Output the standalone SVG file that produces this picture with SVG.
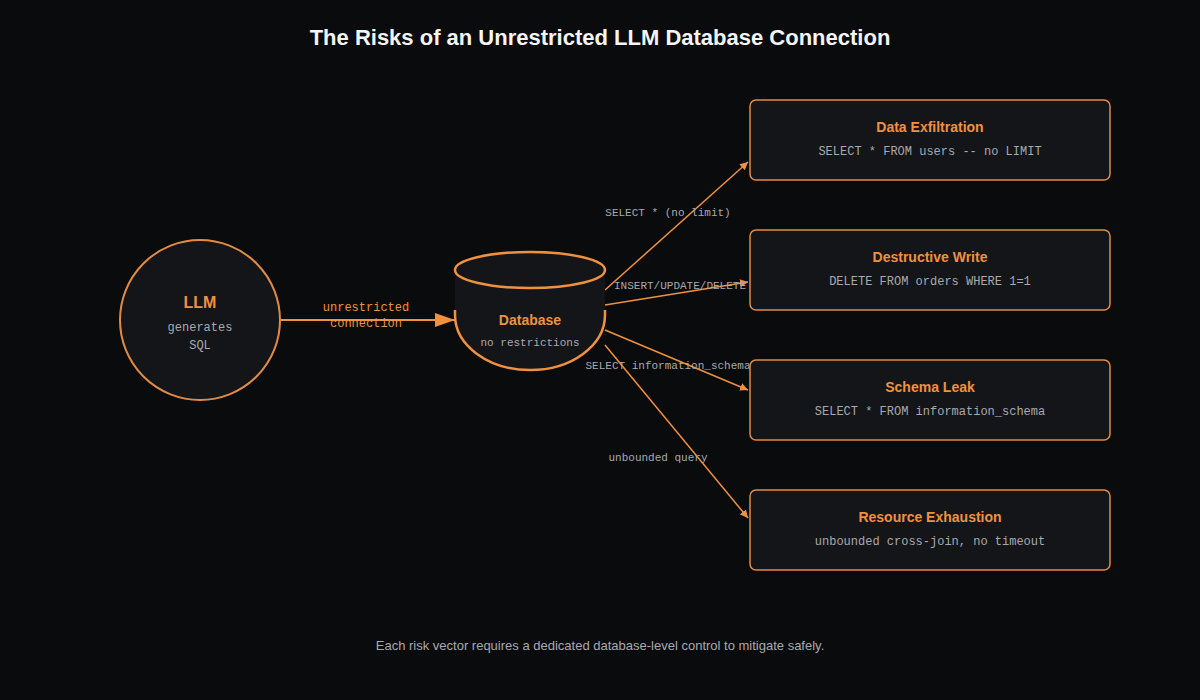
<svg xmlns="http://www.w3.org/2000/svg" width="1200" height="700" viewBox="0 0 1200 700">
<style>
.t{font-family:"Liberation Sans",Arial,sans-serif;font-weight:bold;fill:#f0913f;text-anchor:middle}
.m{font-family:"Liberation Mono","DejaVu Sans Mono",monospace;fill:#a9a9ad;text-anchor:middle}
.box{fill:#141519;stroke:#e38b44;stroke-width:1.5}
.e{stroke:#f0913f;stroke-width:1.5;fill:none;marker-end:url(#a)}
</style>
<defs><marker id="a" viewBox="0 0 10 10" refX="10" refY="5" markerWidth="8" markerHeight="8" orient="auto" markerUnits="userSpaceOnUse"><path d="M0,0L10,5L0,10z" fill="#f0913f"/></marker>
<marker id="b" viewBox="0 0 10 10" refX="10" refY="5" markerWidth="20" markerHeight="14" orient="auto" markerUnits="userSpaceOnUse" preserveAspectRatio="none"><path d="M0,0L10,5L0,10z" fill="#f0913f"/></marker></defs>
<rect width="1200" height="700" fill="#0a0b0d"/>
<text x="600" y="45" font-family="Liberation Sans,Arial,sans-serif" font-weight="bold" font-size="22" fill="#f5f5f5" text-anchor="middle">The Risks of an Unrestricted LLM Database Connection</text>
<g id="connectors">
<line x1="280" y1="320" x2="455" y2="320" stroke="#f0913f" stroke-width="2" marker-end="url(#b)"/>
<text x="366" y="311" class="m" font-size="12" style="fill:#f0913f">unrestricted</text>
<text x="366" y="327" class="m" font-size="12" style="fill:#f0913f">connection</text>
<line class="e" x1="605" y1="290" x2="748" y2="162"/>
<line class="e" x1="605" y1="305" x2="748" y2="282"/>
<line class="e" x1="605" y1="330" x2="748" y2="390"/>
<line class="e" x1="605" y1="345" x2="748" y2="518"/>
<text x="668" y="216" class="m" font-size="11">SELECT * (no limit)</text>
<text x="680" y="289" class="m" font-size="11">INSERT/UPDATE/DELETE</text>
<text x="668" y="369" class="m" font-size="11">SELECT information_schema</text>
<text x="658" y="461" class="m" font-size="11">unbounded query</text>
</g>
<g id="llm"><circle cx="200" cy="320" r="80" class="box" style="stroke-width:2"/>
<text x="200" y="308" class="t" font-size="16">LLM</text>
<text x="200" y="331" class="m" font-size="12">generates</text>
<text x="200" y="349" class="m" font-size="12">SQL</text></g>
<g id="database">
<path d="M455,270V315A75,55 0 0 0 605,315V270z" fill="#141519"/>
<path d="M455,310V315A75,55 0 0 0 605,315V310" fill="none" stroke="#f0913f" stroke-width="2.5"/>
<ellipse cx="530" cy="270" rx="75" ry="18" fill="#141519" stroke="#f0913f" stroke-width="2.5"/>
<text x="530" y="325" class="t" font-size="14">Database</text>
<text x="530" y="346" class="m" font-size="11">no restrictions</text></g>
<g id="exfil"><rect x="750" y="100" width="360" height="80" rx="6" class="box"/>
<text x="930" y="132" class="t" font-size="14">Data Exfiltration</text>
<text x="930" y="155" class="m" font-size="12">SELECT * FROM users -- no LIMIT</text></g>
<g id="write"><rect x="750" y="230" width="360" height="80" rx="6" class="box"/>
<text x="930" y="262" class="t" font-size="14">Destructive Write</text>
<text x="930" y="285" class="m" font-size="12">DELETE FROM orders WHERE 1=1</text></g>
<g id="schema"><rect x="750" y="360" width="360" height="80" rx="6" class="box"/>
<text x="930" y="392" class="t" font-size="14">Schema Leak</text>
<text x="930" y="415" class="m" font-size="12">SELECT * FROM information_schema</text></g>
<g id="resource"><rect x="750" y="490" width="360" height="80" rx="6" class="box"/>
<text x="930" y="522" class="t" font-size="14">Resource Exhaustion</text>
<text x="930" y="545" class="m" font-size="12">unbounded cross-join, no timeout</text></g>
<text x="600" y="650" font-family="Liberation Sans,Arial,sans-serif" font-size="13" fill="#a9a9ad" text-anchor="middle">Each risk vector requires a dedicated database-level control to mitigate safely.</text>
</svg>
